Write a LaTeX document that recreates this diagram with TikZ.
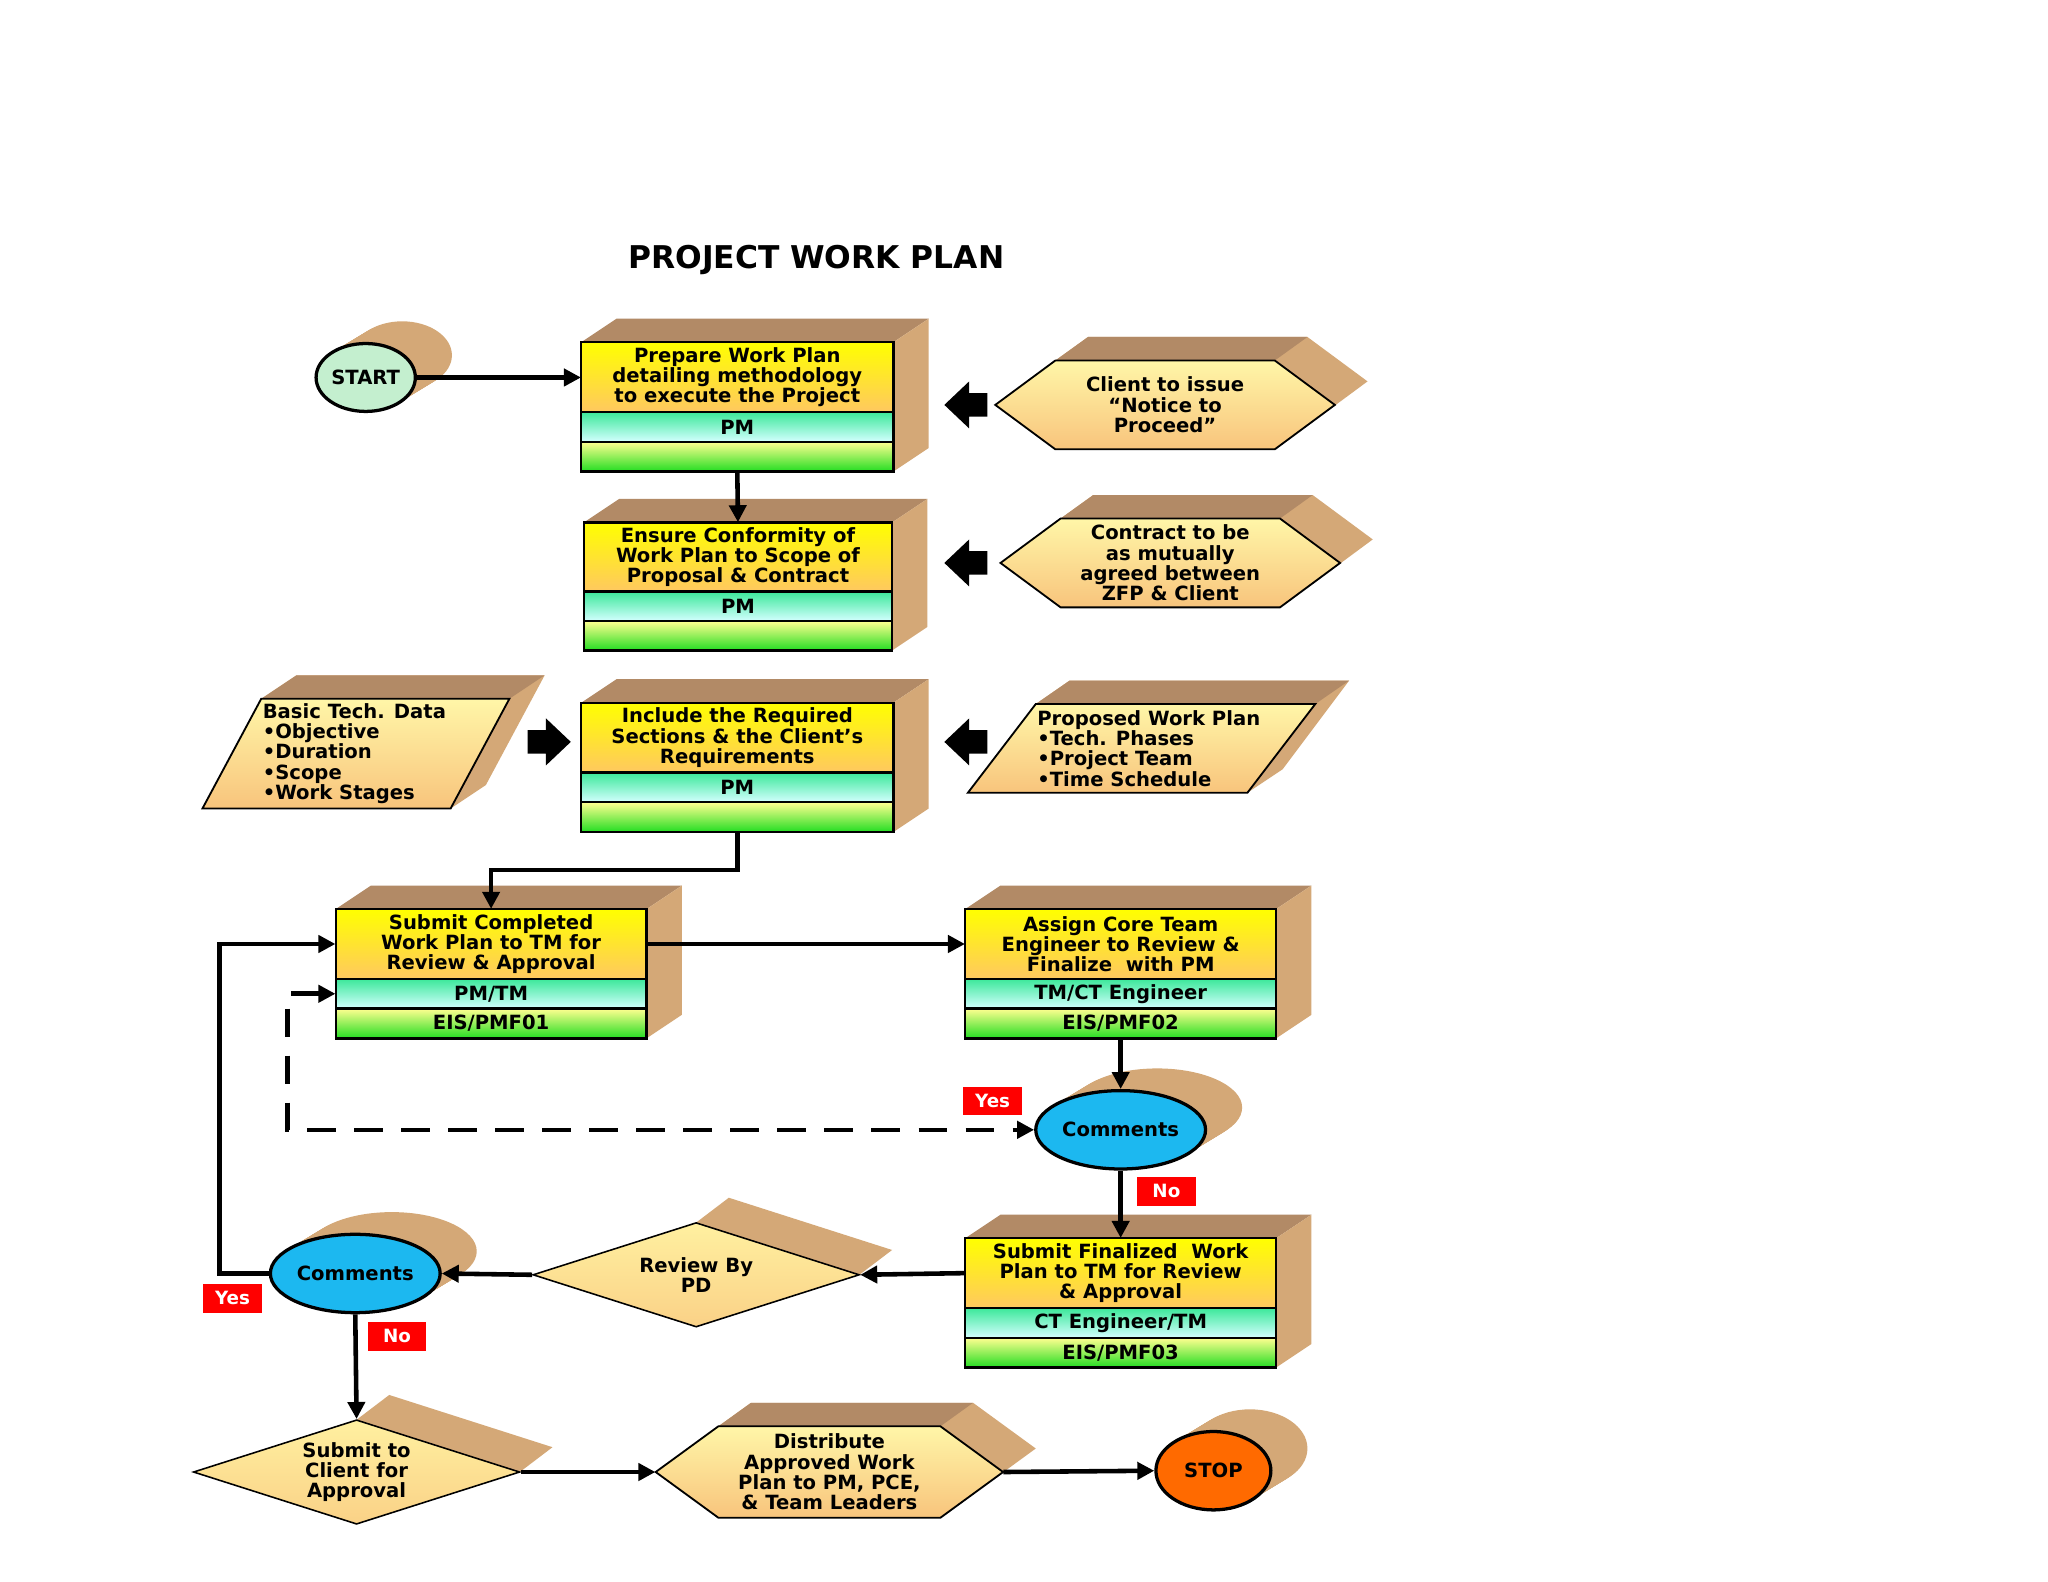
\documentclass[tikz,border=0pt]{standalone}
\usepackage{fontspec}
\setmainfont{DejaVu Sans}
\usetikzlibrary{shapes.geometric,fit,arrows.meta,calc}
\definecolor{tanS}{HTML}{D4A877}
\definecolor{tanT}{HTML}{B28A66}
\definecolor{yelT}{HTML}{FFFF00}
\definecolor{yelB}{HTML}{FFC860}
\definecolor{cyaT}{HTML}{3CE89A}
\definecolor{cyaB}{HTML}{D4FFFF}
\definecolor{grnT}{HTML}{FFFF90}
\definecolor{grnB}{HTML}{22DD22}
\definecolor{hexT}{HTML}{FFF6A8}
\definecolor{hexB}{HTML}{F8C47C}
\definecolor{diaC}{HTML}{FFF0A0}
\definecolor{comC}{HTML}{1CB8F0}
\definecolor{staC}{HTML}{C4EFCF}
\definecolor{stoC}{HTML}{FF6A00}
\tikzset{
 txt/.style={font=\bfseries\fontsize{15}{15.5}\selectfont,align=center,inner sep=0pt},
 ltxt/.style={font=\bfseries\fontsize{15}{15.5}\selectfont,align=left,inner sep=0pt,anchor=west},
 conn/.style={line width=3.5pt,-{Triangle[length=13pt,width=13pt]}},
 dconn/.style={line width=3.5pt,dash pattern=on 22pt off 14pt,{Triangle[length=13pt,width=13pt]}-{Triangle[length=13pt,width=13pt]}},
 lab/.style={fill=red,text=white,font=\bfseries\fontsize{14}{14}\selectfont,minimum width=45pt,minimum height=22pt,inner sep=0pt},
 face/.style={draw=black,line width=1.8pt},
}
\newcommand\wpbox[8]{%
 \pgfmathsetmacro\wya{#3+0.54*(#5-#3)}%
 \pgfmathsetmacro\wyb{#3+0.77*(#5-#3)}%
 \fill[tanT] (#2,#3) -- (#2+27,#3-18) -- (#4+27,#3-18) -- (#4,#3) -- cycle;
 \fill[tanS] (#4,#3) -- (#4+27,#3-18) -- (#4+27,#5-18) -- (#4,#5) -- cycle;
 \shadedraw[face,top color=yelT,bottom color=yelB] (#2,#3) rectangle (#4,\wya);
 \shadedraw[face,top color=cyaT,bottom color=cyaB] (#2,\wya) rectangle (#4,\wyb);
 \shadedraw[face,top color=grnT,bottom color=grnB] (#2,\wyb) rectangle (#4,#5);
 \node[txt] (#1t) at ({(#2+#4)/2},{(#3+\wya)/2}) {#6};
 \node[txt] (#1r) at ({(#2+#4)/2},{(\wya+\wyb)/2}) {#7};
 \node[txt] (#1c) at ({(#2+#4)/2},{(\wyb+#5)/2}) {#8};
 \node[fit={(#2,#3)(#4,#5)},inner sep=0pt] (#1) {};
}
\newcommand\cyl[7]{%
 \foreach \s in {0,0.05,...,1.01} \fill[tanS] (#2+28*\s,#3-17*\s) ellipse [x radius=#4pt, y radius=#5pt];
 \node[ellipse,draw=black,line width=2.5pt,fill=#6,minimum width=2*#4pt,minimum height=2*#5pt,inner sep=0pt,
   font=\bfseries\fontsize{15}{15}\selectfont] (#1) at (#2,#3) {#7};
}
\newcommand\hexa[7]{%
 \fill[tanS] (#2-#4,#3) -- (#2-#4+#5,#3-#6) -- (#2-#4+#5+25,#3-#6-18) -- (#2+#4-#5+25,#3-#6-18)
   -- (#2+#4+25,#3-18) -- (#2+#4-#5+25,#3+#6-18) -- (#2+#4-#5,#3+#6) -- (#2-#4+#5,#3+#6) -- cycle;
 \fill[tanT] (#2-#4+#5,#3-#6) -- (#2-#4+#5+25,#3-#6-18) -- (#2+#4-#5+25,#3-#6-18) -- (#2+#4-#5,#3-#6) -- cycle;
 \shadedraw[face,line width=1.4pt,top color=hexT,bottom color=hexB] (#2-#4,#3) -- (#2-#4+#5,#3-#6) -- (#2+#4-#5,#3-#6)
   -- (#2+#4,#3) -- (#2+#4-#5,#3+#6) -- (#2-#4+#5,#3+#6) -- cycle;
 \node[txt] (#1t) at (#2,#3) {#7};
 \node[fit={(#2-#4,#3-#6)(#2+#4,#3+#6)},inner sep=0pt] (#1) {};
}
\newcommand\dia[6]{%
 \fill[tanS] (#2-#4,#3) -- (#2,#3-#5) -- (#2+25,#3-#5-19) -- (#2+#4+25,#3-19) -- (#2+#4,#3) -- (#2,#3+#5) -- cycle;
 \node[diamond,draw=black,line width=1.2pt,top color=diaC,bottom color=hexB!70!diaC,minimum width=2*#4pt,minimum height=2*#5pt,inner sep=0pt] (#1) at (#2,#3) {};
 \node[txt] (#1t) at (#2,#3) {#6};
}
\newcommand\blarrow[3]{% name, tip x, y, dir (+1 right / -1 left) via #3 sign
 \fill (#2,#3) -- ++(-#1*19,-18) -- ++(0,9) -- ++(-#1*14,0) -- ++(0,18) -- ++(#1*14,0) -- ++(0,9) -- cycle;
}
\begin{document}
\begin{tikzpicture}[x=1pt,y=-1pt]
\useasboundingbox[fill=white] (0,0) rectangle (1568,1211);
\node[font=\bfseries\fontsize{24}{24}\selectfont] (title) at (625,199) {PROJECT WORK PLAN};

\cyl{start}{280}{289}{38}{26}{staC}{START}
\wpbox{b1}{445}{262}{684}{361}{Prepare Work Plan\\detailing methodology\\to execute the Project}{PM}{}
\wpbox{b2}{447}{400}{683}{498}{Ensure Conformity of\\Work Plan to Scope of\\Proposal \& Contract}{PM}{}
\wpbox{b3}{445}{538}{684}{637}{Include the Required\\Sections \& the Client’s\\Requirements}{PM}{}
\wpbox{b4}{257}{696}{495}{795}{Submit Completed\\Work Plan to TM for\\Review \& Approval}{PM/TM}{EIS/PMF01}
\wpbox{b5}{739}{696}{977}{795}{Assign Core Team\\Engineer to Review \&\\Finalize\ \ with PM}{TM/CT Engineer}{EIS/PMF02}
\wpbox{b6}{739}{948}{977}{1047}{Submit Finalized\ \ Work\\Plan to TM for Review\\\& Approval}{CT Engineer/TM}{EIS/PMF03}

\hexa{h1}{892}{310}{130}{46}{34}{Client to issue\\“Notice to\\Proceed”}
\hexa{h2}{896}{431}{130}{46}{34}{Contract to be\\as mutually\\agreed between\\ZFP \& Client}
\hexa{dist}{635}{1127}{133}{48}{35}{Distribute\\Approved Work\\Plan to PM, PCE,\\\& Team Leaders}

% parallelograms
\fill[tanS] (155,619) -- (345,619) -- (372,601) -- (417,517) -- (227,517) -- (200,535) -- cycle;
\fill[tanT] (200,535) -- (227,517) -- (417,517) -- (390,535) -- cycle;
\shadedraw[face,line width=1.4pt,top color=hexT,bottom color=hexB] (155,619) -- (345,619) -- (390,535) -- (200,535) -- cycle;
\node[ltxt] (basic) at (201,577) {Basic Tech. Data\\•Objective\\•Duration\\•Scope\\•Work Stages};
\fill[tanS] (741,607) -- (955,607) -- (982,589) -- (1033,521) -- (819,521) -- (793,539) -- cycle;
\fill[tanT] (793,539) -- (819,521) -- (1033,521) -- (1007,539) -- cycle;
\shadedraw[face,line width=1.4pt,top color=hexT,bottom color=hexB] (741,607) -- (955,607) -- (1007,539) -- (793,539) -- cycle;
\node[ltxt] (prop) at (794,573) {Proposed Work Plan\\•Tech. Phases\\•Project Team\\•Time Schedule};

% block arrows
\blarrow{-1}{723}{310}
\blarrow{-1}{723}{431}
\blarrow{-1}{723}{568}
\blarrow{1}{437}{568}

\cyl{c1}{858}{865}{65}{30}{comC}{Comments}
\cyl{c2}{272}{975}{65}{30}{comC}{Comments}
\cyl{stop}{929}{1126}{44}{30}{stoC}{STOP}
\dia{rev}{533}{976}{125}{40}{Review By\\PD}
\dia{sub}{273}{1127}{125}{40}{Submit to\\Client for\\Approval}

\coordinate (dl) at (220,865);
\coordinate (yl) at (168,975);
\draw[conn] (start) -- (start -| b1.west);
\draw[conn] (b1.south) -- (b2.north);
\draw[conn] (b3.south) -- ++(0,29) -| (b4.north);
\draw[conn] (b4.east |- b4t) -- (b5.west |- b4t);
\draw[conn] (b5.south) -- (c1.north);
\draw[conn] (c1.south) -- (b6.north);
\draw[dconn] (b4.west |- b4r) -| (dl) -- (c1.west);
\draw[conn] (b6.west |- b6t) -- (rev.east);
\draw[conn] (rev.west) -- (c2.east);
\draw[conn] (c2.west) -- (yl) |- (b4.west |- b4t);
\draw[conn] (c2.south) -- (sub.north);
\draw[conn] (sub.east) -- (dist.west);
\draw[conn] (dist.east) -- (stop.west);

\node[lab] (y1) at (760,843) {Yes};
\node[lab] (n1) at (893,912) {No};
\node[lab] (y2) at (178,994) {Yes};
\node[lab] (n2) at (304,1023) {No};
\end{tikzpicture}
\end{document}
